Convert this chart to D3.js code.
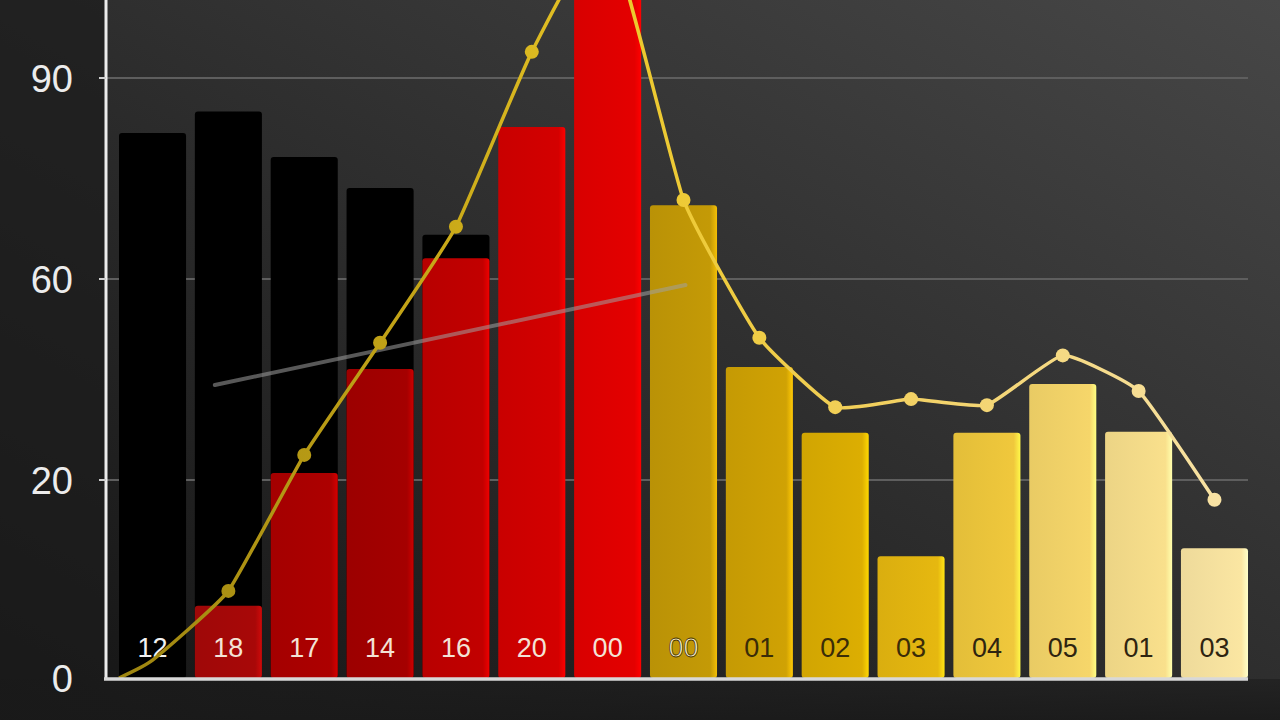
<!DOCTYPE html>
<html><head><meta charset="utf-8">
<script src="https://cdn.jsdelivr.net/npm/d3@7/dist/d3.min.js"></script>
<style>html,body{margin:0;padding:0;background:#1c1c1c;overflow:hidden}svg{display:block}</style>
</head><body><svg id="c" width="1280" height="720"></svg>
<script>
// ---- data ----
const categories = ["12","18","17","14","16","20","00","00","01","02","03","04","05","01","03"];
const backValues = [81.8, 85.0, 78.2, 73.6, 66.6, null, null, null, null, null, null, null, null, null, null];
const barValues  = [null, 7.3, 21.4, 42.1, 63.1, 82.7, 105, 71.0, 42.5, 29.4, 12.3, 29.4, 39.1, 29.6, 13.1];
const lineValues = [1.8, 8.8, 25.0, 47.3, 67.8, 93.9, 112, 71.8, 48.3, 34.5, 36.1, 34.9, 44.8, 37.7, 18.0];
const trendValues = [38.9, 58.8];   // from 2nd to 8th category
const yTicks = [0, 20, 60, 90];
const barColors = ["#000000","#a80808","#ad0000","#a50000","#c20000","#d40000","#e40000",
                   "#c49a06","#d0a204","#dcae02","#e6b810","#f0c83c","#f6d66a","#f9e08c","#fbe6a2"];
const labelColors = ["#f2f2f2","#f3e3d6","#f3e3d6","#f3e3d6","#f3e3d6","#f3e3d6","#f3e3d6",
                     "#f6ecc8","#3a2c08","#3a2c08","#3a2c08","#2e2410","#2e2410","#2e2410","#2e2410"];

const svg = d3.select("#c");
const W = 1280, H = 720;
const axisX = 106, baseY = 679;

const defs = svg.append("defs");
const bg = defs.append("linearGradient").attr("id","bg").attr("x1","0").attr("y1","1").attr("x2","1").attr("y2","0");
bg.append("stop").attr("offset","0").attr("stop-color","#141414");
bg.append("stop").attr("offset","0.45").attr("stop-color","#2a2a2a");
bg.append("stop").attr("offset","1").attr("stop-color","#474747");
svg.append("rect").attr("width",W).attr("height",H).attr("fill","url(#bg)");
const bottomFade = defs.append("linearGradient").attr("id","bf").attr("x1","0").attr("y1","0").attr("x2","0").attr("y2","1");
bottomFade.append("stop").attr("offset","0").attr("stop-color","#1c1c1c").attr("stop-opacity",0.6);
bottomFade.append("stop").attr("offset","1").attr("stop-color","#1a1a1a").attr("stop-opacity",0.9);
svg.append("rect").attr("x",0).attr("y",baseY).attr("width",W).attr("height",H-baseY).attr("fill","url(#bf)");
svg.append("rect").attr("x",0).attr("y",0).attr("width",axisX).attr("height",baseY).attr("fill","#1c1c1c").attr("opacity",0.7);

const x = d3.scaleBand().domain(d3.range(categories.length)).range([119, 1248]).paddingInner(0.116).paddingOuter(0);
const y = d3.scaleLinear().domain(yTicks).range([678, 480, 279, 78]);
const bw = x.bandwidth();

// grid
svg.append("g").selectAll("line").data(yTicks.slice(1)).join("line")
  .attr("x1", axisX).attr("x2", 1248).attr("y1", d=>y(d)).attr("y2", d=>y(d))
  .attr("stroke","#5e5e5e").attr("stroke-width",2);

// back (black) bars
svg.append("g").selectAll("rect").data(backValues.map((v,i)=>({v,i})).filter(d=>d.v!=null)).join("rect")
  .attr("x", d=>x(d.i)).attr("width", bw).attr("y", d=>y(d.v)).attr("height", d=>y(0)-y(d.v))
  .attr("rx",3).attr("fill","#000");

// colored bars with shading
barColors.forEach((c,i)=>{
  const g = defs.append("linearGradient").attr("id","bg"+i).attr("x1","0").attr("y1","0").attr("x2","1").attr("y2","0");
  g.append("stop").attr("offset","0").attr("stop-color", d3.color(c).darker(0.15));
  g.append("stop").attr("offset","0.9").attr("stop-color", c);
  g.append("stop").attr("offset","1").attr("stop-color", d3.color(c).brighter(0.6));
});
const bars = barValues.map((v,i)=>({v,i})).filter(d=>d.v!=null);
svg.append("g").selectAll("rect").data(bars).join("rect")
  .attr("x", d=>x(d.i)).attr("width", bw).attr("y", d=>y(d.v)).attr("height", d=>y(0)-y(d.v))
  .attr("rx",3).attr("fill", d=>`url(#bg${d.i})`);

// category labels
svg.append("g").selectAll("text").data(categories).join("text")
  .attr("x", (d,i)=>x(i)+bw/2).attr("y", 657)
  .attr("text-anchor","middle")
  .attr("font-family","Liberation Sans, Arial, sans-serif").attr("font-size",27)
  .attr("fill", (d,i)=>labelColors[i])
  .attr("stroke", (d,i)=> i===7 ? "#4a3800" : "none").attr("stroke-width",0.8)
  .text(d=>d);

// trend line
svg.append("line")
  .attr("x1", x(1)+20).attr("y1", y(trendValues[0]))
  .attr("x2", x(7)+bw/2+2).attr("y2", y(trendValues[1]))
  .attr("stroke","#a0a0a0").attr("stroke-opacity",0.55).attr("stroke-width",4).attr("stroke-linecap","round");

// gold line
const lg = defs.append("linearGradient").attr("id","lg").attr("gradientUnits","userSpaceOnUse")
  .attr("x1",110).attr("y1",0).attr("x2",1220).attr("y2",0);
lg.append("stop").attr("offset","0").attr("stop-color","#9c8410");
lg.append("stop").attr("offset","0.3").attr("stop-color","#c8a818");
lg.append("stop").attr("offset","0.45").attr("stop-color","#ecc828");
lg.append("stop").attr("offset","0.7").attr("stop-color","#f2d060");
lg.append("stop").attr("offset","1").attr("stop-color","#f8e2a4");
const pts = [[x.range()[0], y(0)]].concat(lineValues.map((v,i)=>[x(i)+bw/2, y(v)]));
svg.append("path").attr("d", d3.line().curve(d3.curveCardinal.tension(0.6))(pts))
  .attr("fill","none").attr("stroke","url(#lg)").attr("stroke-width",3.5);
svg.append("g").selectAll("circle").data(lineValues.map((v,i)=>({v,i})).filter(d=>d.i>0)).join("circle")
  .attr("cx", d=>x(d.i)+bw/2).attr("cy", d=>y(d.v)).attr("r",7).attr("fill","url(#lg)");

// axes
svg.append("line").attr("x1",axisX).attr("x2",axisX).attr("y1",0).attr("y2",baseY+1)
  .attr("stroke","#ececec").attr("stroke-width",3);
svg.append("line").attr("x1",axisX-2).attr("x2",1248).attr("y1",baseY).attr("y2",baseY)
  .attr("stroke","#d8d8d8").attr("stroke-width",3.5);
svg.append("g").selectAll("line").data(yTicks.slice(1)).join("line")
  .attr("x1",axisX-7).attr("x2",axisX).attr("y1",d=>y(d)).attr("y2",d=>y(d))
  .attr("stroke","#cfcfcf").attr("stroke-width",2);
svg.append("g").selectAll("text").data(yTicks).join("text")
  .attr("x",73).attr("y",d=>y(d)).attr("dy","0.36em").attr("text-anchor","end")
  .attr("font-family","Liberation Sans, Arial, sans-serif").attr("font-size",38)
  .attr("fill","#ececec").text(d=>d);
</script></body></html>
